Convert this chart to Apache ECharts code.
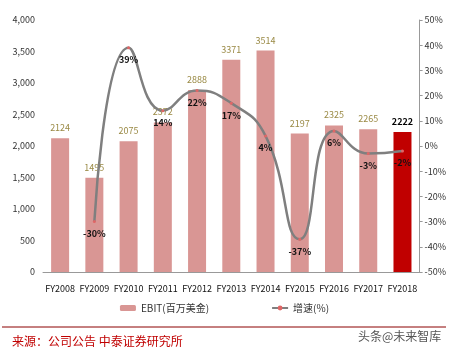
<!DOCTYPE html>
<html>
<head>
<meta charset="utf-8">
<script src="https://cdn.jsdelivr.net/npm/echarts@6/dist/echarts.min.js"></script>
<style>
* { margin: 0; padding: 0; }
body { background: #ffffff; }
#chart { width: 449px; height: 352px; }
</style>
</head>
<body>
<div id="chart"></div>
<script>
const years = ['FY2008', 'FY2009', 'FY2010', 'FY2011', 'FY2012', 'FY2013', 'FY2014', 'FY2015', 'FY2016', 'FY2017', 'FY2018'];
const ebit = [2124, 1495, 2075, 2372, 2888, 3371, 3514, 2197, 2325, 2265, 2222];
const growth = ['-', -30, 39, 14, 22, 17, 4, -37, 6, -3, -2];

const font = '"Liberation Sans Narrow", "Noto Sans CJK SC", sans-serif';

// 最后一年单独上色
const barData = ebit.map((v, i) => {
    if (i === ebit.length - 1) {
        return {
            value: v,
            itemStyle: { color: '#c00000' },
            label: { color: '#000000', fontWeight: 'bold' }
        };
    }
    return v;
});

const chart = echarts.init(document.getElementById('chart'));
chart.setOption({
    backgroundColor: '#ffffff',
    animation: false,
    grid: { left: 43, right: 24, top: 20, bottom: 80 },
    legend: {
        bottom: 34,
        left: 'center',
        itemGap: 62,
        itemWidth: 16,
        itemHeight: 6,
        textStyle: { fontSize: 10, color: '#333', fontFamily: font },
        data: ['EBIT(百万美金)', '增速(%)']
    },
    xAxis: {
        type: 'category',
        data: years,
        axisLine: { lineStyle: { color: '#999', width: 1 } },
        axisTick: { show: false },
        axisLabel: { fontSize: 9, color: '#111', fontFamily: font, margin: 12, interval: 0 }
    },
    yAxis: [{
        type: 'value',
        min: 0,
        max: 4000,
        interval: 500,
        splitLine: { show: false },
        axisLine: { show: false },
        axisTick: { show: false },
        axisLabel: {
            fontSize: 9, color: '#333', fontFamily: font, margin: 8,
            formatter: v => v.toLocaleString('en-US')
        }
    }, {
        type: 'value',
        min: -50,
        max: 50,
        interval: 10,
        splitLine: { show: false },
        axisLine: { show: true, lineStyle: { color: '#999' } },
        axisTick: { show: true, length: 3, lineStyle: { color: '#999' } },
        axisLabel: { fontSize: 9, color: '#333', fontFamily: font, margin: 5, formatter: '{value}%' }
    }],
    series: [{
        name: 'EBIT(百万美金)',
        type: 'bar',
        data: barData,
        barWidth: 18,
        itemStyle: { color: '#d99694' },
        label: {
            show: true,
            position: 'top',
            distance: 6,
            fontSize: 9,
            color: '#9a8a45',
            fontFamily: font
        }
    }, {
        name: '增速(%)',
        type: 'line',
        yAxisIndex: 1,
        data: growth,
        smooth: 0.5,
        symbol: 'circle',
        symbolSize: 3,
        itemStyle: { color: '#e06666' },
        lineStyle: { color: '#7f7f7f', width: 2.5 },
        label: {
            show: true,
            position: 'bottom',
            distance: 6,
            fontSize: 9,
            fontWeight: 'bold',
            color: '#111',
            fontFamily: font,
            formatter: '{c}%'
        }
    }],
    graphic: [{
        type: 'line',
        shape: { x1: 2, y1: 327, x2: 446, y2: 327 },
        style: { stroke: '#8b0000', lineWidth: 1 }
    }, {
        type: 'text',
        left: 12,
        top: 335,
        style: { text: '来源：公司公告 中泰证券研究所', fill: '#c00000', font: '12px "Noto Sans CJK SC"' }
    }, {
        type: 'text',
        left: 357,
        top: 329,
        style: { text: '头条@未来智库', fill: '#555', stroke: '#fff', lineWidth: 2, font: '12px "Noto Sans CJK SC"' }
    }]
});
</script>
</body>
</html>
